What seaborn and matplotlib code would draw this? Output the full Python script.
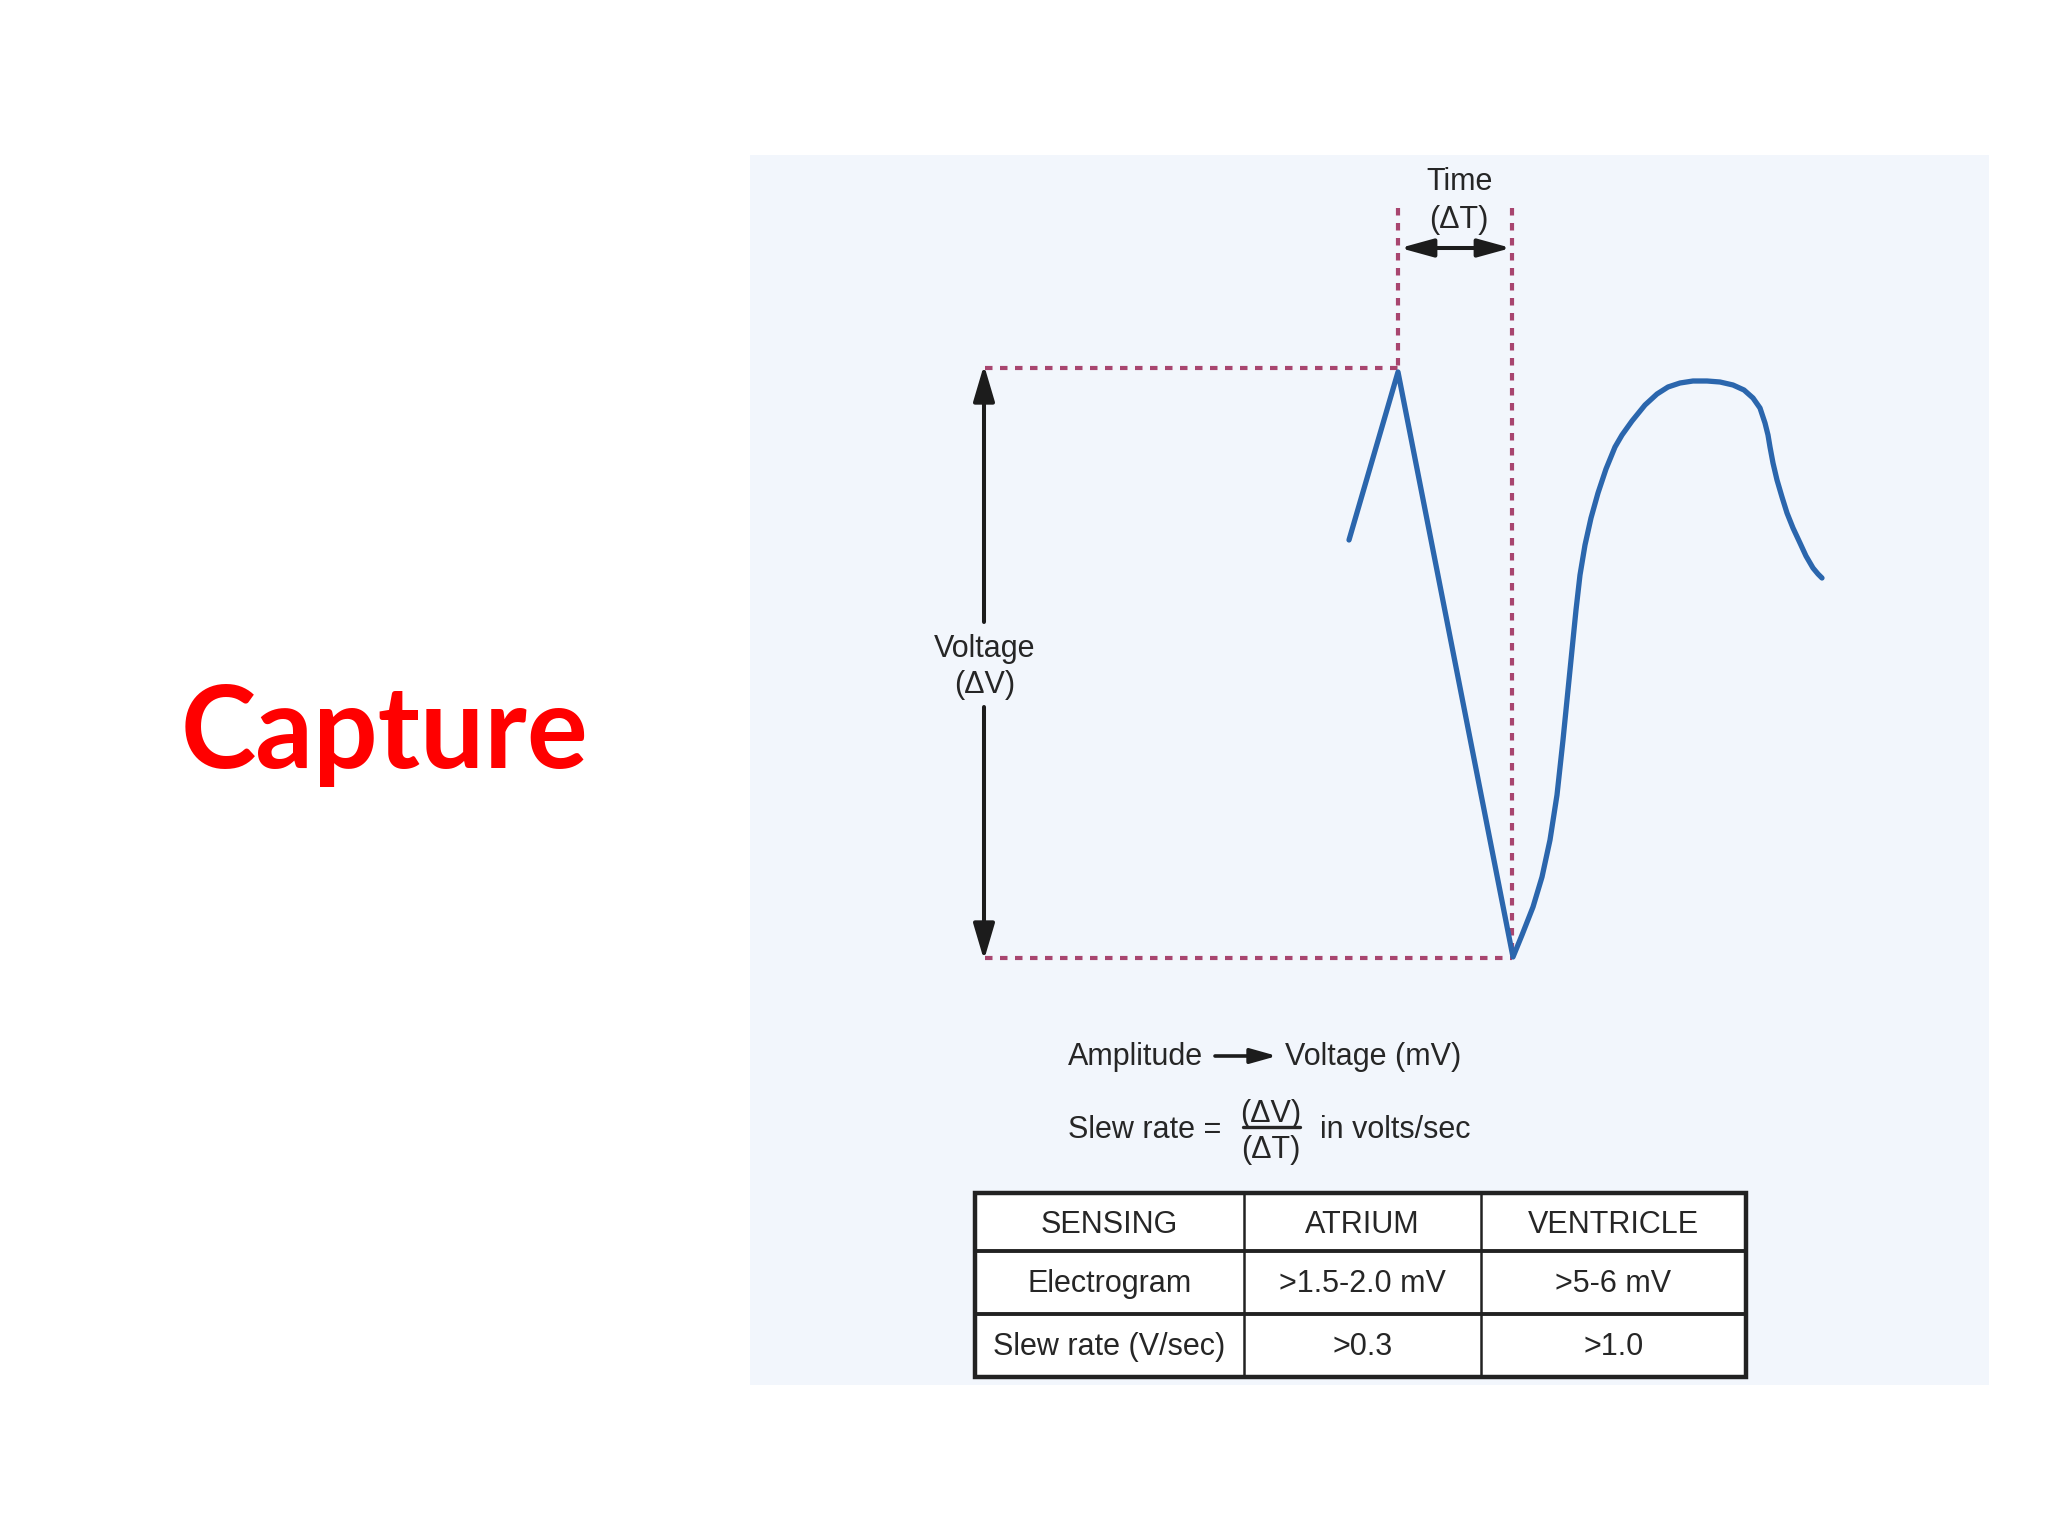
import matplotlib
matplotlib.use("Agg")
import matplotlib.pyplot as plt
from matplotlib.patches import Rectangle, FancyArrowPatch
import seaborn as sns
import pandas as pd

# ---------------- data ----------------
title_text = "Capture"
# electrogram trace (x: time axis, y: voltage axis, image units)
wave_x = [1349, 1398, 1513, 1522, 1533, 1542, 1550, 1557, 1563, 1568, 1572, 1576,
          1580, 1585, 1591, 1598, 1606, 1615, 1622, 1632, 1645, 1657, 1668, 1680,
          1693, 1707, 1720, 1733, 1744, 1753, 1760, 1765, 1768, 1770, 1773, 1777,
          1782, 1787, 1793, 1800, 1806, 1813, 1818, 1822]
wave_y = [540, 372, 957, 935, 907, 877, 840, 795, 740, 690, 650, 610,
          575, 545, 518, 493, 469, 447, 435, 421, 405, 394, 387, 383,
          381, 381, 382, 385, 390, 398, 408, 423, 435, 447, 463, 480,
          497, 513, 528, 543, 556, 568, 574, 578]

time_label = ["Time", "(\u0394T)"]
voltage_label = ["Voltage", "(\u0394V)"]
amp_left, amp_right = "Amplitude", "Voltage (mV)"
slew_left, slew_num, slew_den, slew_right = "Slew rate =", "(\u0394V)", "(\u0394T)", "in volts/sec"

table_header = ["SENSING", "ATRIUM", "VENTRICLE"]
table_rows = [["Electrogram", ">1.5-2.0 mV", ">5-6 mV"],
              ["Slew rate (V/sec)", ">0.3", ">1.0"]]

# ---------------- style ----------------
sns.set_theme(style="white")
plt.rcParams["font.family"] = ["Liberation Sans", "DejaVu Sans"]

W, H = 2048, 1536
fig = plt.figure(figsize=(W / 100, H / 100), dpi=100)
fig.patch.set_facecolor("white")
ax = fig.add_axes([0, 0, 1, 1])

TXT = "#262626"
FS = 22
DOT = "#A8456F"
BLUE = "#2B66AD"

# waveform
wave = pd.DataFrame({"t": wave_x, "v": wave_y})
sns.lineplot(data=wave, x="t", y="v", sort=False, ax=ax, color=BLUE, lw=3.8,
             zorder=3, solid_joinstyle="round", solid_capstyle="round")
ax.set_xlim(0, W)
ax.set_ylim(H, 0)
ax.axis("off")

# panel background
ax.add_patch(Rectangle((750, 155), 1989 - 750, 1385 - 155, facecolor="#F2F6FC",
                       edgecolor="none", zorder=0))

# title
ax.text(181, 768, title_text, color="#FF0000", fontsize=82, fontweight="bold",
        family=["Lato", "DejaVu Sans"], ha="left", va="baseline")

# dotted guide lines
dot_kw = dict(color=DOT, lw=3.0, dashes=(1.8, 1.8), zorder=2)
ax.plot([985, 1398], [368, 368], **dot_kw)
ax.plot([985, 1512], [958, 958], **dot_kw)
ax.plot([1398, 1398], [208, 372], **dot_kw)
ax.plot([1512, 1512], [208, 958], **dot_kw)

def arrow(p0, p1, style, lw=2.9):
    a = FancyArrowPatch(p0, p1, arrowstyle=style, mutation_scale=1, lw=lw,
                        color="#1c1c1c", shrinkA=0, shrinkB=0, zorder=4)
    ax.add_patch(a)

# voltage arrow
arrow((984, 622), (984, 365), "-|>,head_length=22,head_width=6.5")
arrow((984, 707), (984, 960), "-|>,head_length=22,head_width=6.5")
ax.text(985, 657, voltage_label[0], fontsize=FS, color=TXT, ha="center", va="baseline")
ax.text(985, 693, voltage_label[1], fontsize=FS, color=TXT, ha="center", va="baseline")

# time arrow
arrow((1400, 248), (1511, 248), "<|-|>,head_length=20,head_width=5.5")
ax.text(1460, 190, time_label[0], fontsize=FS, color=TXT, ha="center", va="baseline")
ax.text(1459, 228, time_label[1], fontsize=FS, color=TXT, ha="center", va="baseline")

# amplitude line
ax.text(1068, 1065, amp_left, fontsize=FS, color=TXT, ha="left", va="baseline")
arrow((1215, 1056), (1277, 1056), "-|>,head_length=16,head_width=4.5", lw=2.6)
ax.text(1285, 1065, amp_right, fontsize=FS, color=TXT, ha="left", va="baseline")

# slew rate formula
ax.text(1068, 1138, slew_left, fontsize=FS, color=TXT, ha="left", va="baseline")
ax.text(1271, 1122, slew_num, fontsize=FS, color=TXT, ha="center", va="baseline")
ax.plot([1243, 1300], [1127, 1127], color=TXT, lw=2.4)
ax.text(1271, 1158, slew_den, fontsize=FS, color=TXT, ha="center", va="baseline")
ax.text(1320, 1138, slew_right, fontsize=FS, color=TXT, ha="left", va="baseline")

# table
tx0, tx1 = 975, 1746
col_edges = [975, 1244, 1481, 1746]
row_edges = [1193, 1251, 1314, 1377]
LC = "#222222"
ax.add_patch(Rectangle((tx0, row_edges[0]), tx1 - tx0, row_edges[-1] - row_edges[0],
                       facecolor="white", edgecolor=LC, lw=3.2, zorder=3))
for yy in row_edges[1:-1]:
    ax.plot([tx0, tx1], [yy, yy], color=LC, lw=2.8, zorder=4)
for xx in col_edges[1:-1]:
    ax.plot([xx, xx], [row_edges[0], row_edges[-1]], color=LC, lw=1.8, zorder=4)

baselines = [1233, 1292, 1355]
all_rows = [table_header] + table_rows
for r, row in enumerate(all_rows):
    for c, cell in enumerate(row):
        cx = (col_edges[c] + col_edges[c + 1]) / 2
        ax.text(cx, baselines[r], cell, fontsize=FS, color=TXT, ha="center",
                va="baseline", zorder=5)

fig.savefig("out.png", dpi=100, facecolor="white")
